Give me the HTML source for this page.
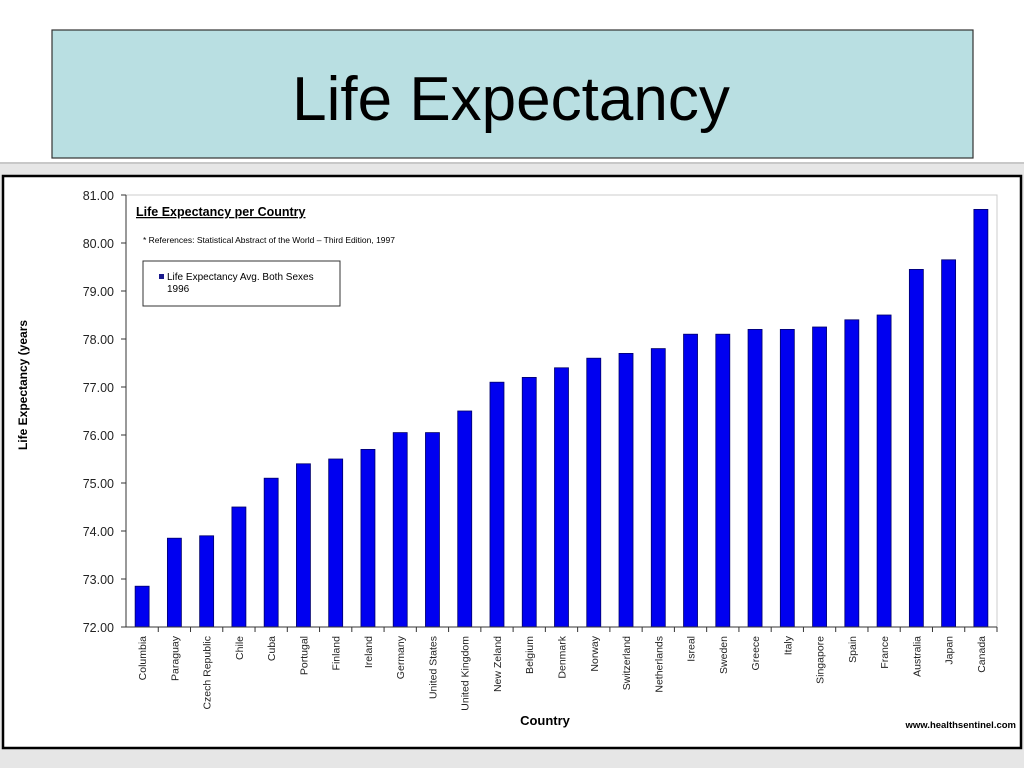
<!DOCTYPE html>
<html><head><meta charset="utf-8"><style>
body{margin:0;width:1024px;height:768px;background:#fff;overflow:hidden;font-family:"Liberation Sans",Arial,sans-serif}
</style></head><body>
<svg width="1024" height="768" xmlns="http://www.w3.org/2000/svg" font-family="Liberation Sans, Arial, sans-serif">
<rect x="52" y="30" width="921" height="128" fill="#b9dfe2" stroke="#333" stroke-width="1.2"/>
<text x="511" y="120" font-size="62" text-anchor="middle" fill="#000">Life Expectancy</text>
<rect x="0" y="162" width="1024" height="606" fill="#e6e6e6"/>
<rect x="0" y="162" width="1024" height="2" fill="#c8c8c8"/>
<rect x="3" y="176" width="1018" height="572" fill="#fff" stroke="#000" stroke-width="2.5"/>
<rect x="126" y="195" width="871" height="432" fill="#fff" stroke="#ccc" stroke-width="1"/>
<g id="bars"></g>
<g font-size="12.5" fill="#222" text-anchor="end" id="yt"></g>
<line x1="126" y1="195" x2="126" y2="627" stroke="#333"/>
<line x1="126" y1="627" x2="997" y2="627" stroke="#333"/>
<text x="136" y="216" font-size="12.5" font-weight="bold" text-decoration="underline" fill="#000">Life Expectancy per Country</text>
<text x="143" y="243" font-size="8.5" fill="#000">* References: Statistical Abstract of the World – Third Edition, 1997</text>
<rect x="143" y="261" width="197" height="45" fill="#fff" stroke="#333"/>
<rect x="159" y="274" width="5" height="5" fill="#1a1a8c"/>
<text x="167" y="280" font-size="10" fill="#000">Life Expectancy Avg. Both Sexes</text>
<text x="167" y="292" font-size="10" fill="#000">1996</text>
<text transform="translate(27,385) rotate(-90)" font-size="12" font-weight="bold" text-anchor="middle" fill="#000">Life Expectancy (years</text>
<text x="545" y="725" font-size="13" font-weight="bold" text-anchor="middle" fill="#000">Country</text>
<text x="1016" y="728" font-size="9.5" font-weight="bold" text-anchor="end" fill="#000">www.healthsentinel.com</text>
<g id="xl" font-size="10.5" fill="#222" text-anchor="end"></g>
<script>
var n=["Columbia","Paraguay","Czech Republic","Chile","Cuba","Portugal","Finland","Ireland","Germany","United States","United Kingdom","New Zeland","Belgium","Denmark","Norway","Switzerland","Netherlands","Isreal","Sweden","Greece","Italy","Singapore","Spain","France","Australia","Japan","Canada"];
var v=[72.85,73.85,73.9,74.5,75.1,75.4,75.5,75.7,76.05,76.05,76.5,77.1,77.2,77.4,77.6,77.7,77.8,78.1,78.1,78.2,78.2,78.25,78.4,78.5,79.45,79.65,80.7];
var ns="http://www.w3.org/2000/svg",w=871/27,b=document.getElementById("bars"),xl=document.getElementById("xl"),yt=document.getElementById("yt");
function el(t,a,p,tx){var e=document.createElementNS(ns,t);for(var k in a)e.setAttribute(k,a[k]);if(tx)e.textContent=tx;p.appendChild(e);}
for(var i=0;i<27;i++){var c=126+w*(i+0.5),y=627-(v[i]-72)*48;
el("rect",{x:c-7,y:y,width:14,height:627-y,fill:"#0000f0",stroke:"#00006a","stroke-width":0.8},b);
el("line",{x1:126+w*(i+1),y1:627,x2:126+w*(i+1),y2:632,stroke:"#333"},b);
el("text",{transform:"translate("+(c+4)+",636) rotate(-90)"},xl,n[i]);}
for(var j=0;j<=9;j++){var y=627-j*48;el("line",{x1:121,y1:y,x2:126,y2:y,stroke:"#333"},b);el("text",{x:114,y:y+5},yt,(72+j).toFixed(2));}
</script>
</svg>
</body></html>
